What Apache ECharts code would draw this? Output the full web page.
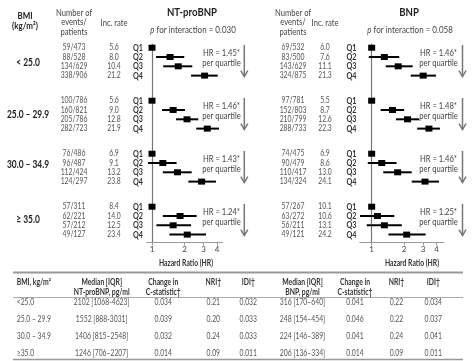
<!DOCTYPE html>
<html><head><meta charset="utf-8">
<script src="https://cdn.jsdelivr.net/npm/echarts@6/dist/echarts.min.js"></script>
<style>html,body{margin:0;padding:0;background:#fff}#c{width:474px;height:361px}</style>
</head><body><div id="c"></div>
<script>
// ---------- data ----------
const groups = ['< 25.0', '25.0 – 29.9', '30.0 – 34.9', '≥ 35.0'];
const quartiles = ['Q1', 'Q2', 'Q3', 'Q4'];
const xTicks = [1, 2, 3, 4];

const ntEvents = ['59/473','88/528','134/629','338/906','100/786','160/821','205/786','282/723','76/486','96/487','112/424','124/297','57/311','62/221','57/212','49/127'];
const ntInc = ['5.6','8.0','10.4','21.2','5.6','9.0','12.8','21.9','6.9','9.1','13.2','23.8','8.4','14.0','12.5','23.4'];
const ntHR = [1,1.47,1.75,3.07, 1,1.57,2.11,3.25, 1,1.26,1.72,2.88, 1,1.82,1.57,2.12];
const ntLo = [null,1.09,1.27,2.30, null,1.24,1.67,2.57, null,0.92,1.26,2.17, null,1.26,1.10,1.45];
const ntHi = [null,1.99,2.36,4.06, null,2.02,2.68,4.17, null,1.69,2.33,3.91, null,2.59,2.30,3.16];
const ntPerQ = ['1.45','1.46','1.43','1.24'];
const ntP = '0.030';

const bnpEvents = ['69/532','83/500','143/629','324/875','97/781','152/803','210/799','288/733','74/475','90/479','110/417','134/324','57/267','63/272','56/211','49/121'];
const bnpInc = ['6.0','7.6','11.1','21.3','5.5','8.7','12.6','22.3','6.9','8.6','13.0','24.1','10.1','10.6','13.1','24.2'];
const bnpHR = [1,1.31,1.76,3.00, 1,1.56,2.15,3.39, 1,1.24,1.74,3.12, 1,1.13,1.31,2.11];
const bnpLo = [null,0.94,1.35,2.30, null,1.21,1.68,2.64, null,0.92,1.28,2.35, null,0.78,0.90,1.43];
const bnpHi = [null,1.80,2.40,3.94, null,2.00,2.76,4.29, null,1.70,2.35,4.20, null,1.62,1.90,3.16];
const bnpPerQ = ['1.46','1.48','1.46','1.25'];
const bnpP = '0.058';

const tblHeader1 = ['BMI, kg/m²','Median [IQR]','Change in','NRI†','IDI†','Median [IQR]','Change in','NRI†','IDI†'];
const tblHeader2 = ['','NT-proBNP, pg/ml','C-statistic†','','','BNP, pg/ml','C-statistic†','',''];
const tblBMI = ['<25.0','25.0 – 29.9','30.0 – 34.9','≥35.0'];
const tblNtMedian = ['2102 [1068-4623]','1552 [888-3031]','1406 [815–2548]','1246 [706–2207]'];
const tblNtC = ['0.034','0.039','0.032','0.014'];
const tblNtNRI = ['0.21','0.20','0.24','0.09'];
const tblNtIDI = ['0.032','0.033','0.033','0.011'];
const tblBnpMedian = ['316 [170–640]','248 [154–454]','224 [146–389]','206 [136–334]'];
const tblBnpC = ['0.041','0.046','0.041','0.014'];
const tblBnpNRI = ['0.22','0.22','0.24','0.09'];
const tblBnpIDI = ['0.034','0.037','0.041','0.011'];

// ---------- layout ----------
const FONT = 'Lato';
const SX = 0.8;
const GAP = 5.7;
const rowPos = (g, q) => g * GAP + q;
const L10 = v => Math.log10(v);

function forestData(hr, lo, hi) {
  return hr.map((v, i) => {
    const g = Math.floor(i / 4), q = i % 4;
    return [L10(v), rowPos(g, q), L10(lo[i] == null ? v : lo[i]), L10(hi[i] == null ? v : hi[i])];
  });
}
function renderForest(params, api) {
  const p = api.coord([api.value(0), api.value(1)]);
  const a = api.coord([api.value(2), api.value(1)]);
  const b = api.coord([api.value(3), api.value(1)]);
  return { type: 'group', children: [
    { type: 'line', shape: { x1: a[0], y1: p[1], x2: b[0], y2: p[1] }, style: { stroke: '#000', lineWidth: 2 } },
    { type: 'rect', shape: { x: p[0] - 3.5, y: p[1] - 3, width: 7, height: 6 }, style: { fill: '#000' } }
  ]};
}
const tickVals = xTicks.map(L10);
function xAxisCfg(gi, min, max) {
  return {
    gridIndex: gi, type: 'value', min: min, max: max,
    axisLine: { onZero: false, lineStyle: { color: '#999', width: 1 } },
    axisTick: { show: true, customValues: tickVals, length: 3, lineStyle: { color: '#999' } },
    axisLabel: { customValues: tickVals, formatter: v => String(Math.round(Math.pow(10, v))), fontSize: 8, color: '#444', margin: 3, fontFamily: FONT },
    splitLine: { show: false }
  };
}
function yAxisCfg(gi) {
  return {
    gridIndex: gi, type: 'value', inverse: true, min: -0.4, max: 20.95,
    axisLine: { show: true, onZero: true, lineStyle: { color: '#777', width: 1.2 } },
    axisTick: { show: false }, axisLabel: { show: false }, splitLine: { show: false }
  };
}

const chart = echarts.init(document.getElementById('c'));
chart.setOption({
  animation: false,
  backgroundColor: '#fff',
  grid: [
    { left: 146.6, top: 44, width: 75.6, height: 198.5, outerBoundsMode: 'none', containLabel: false },
    { left: 359.8, top: 44, width: 84.2, height: 198.5, outerBoundsMode: 'none', containLabel: false }
  ],
  xAxis: [xAxisCfg(0, -0.05, 0.65), xAxisCfg(1, -0.11, 0.67)],
  yAxis: [yAxisCfg(0), yAxisCfg(1)],
  series: [
    { type: 'custom', xAxisIndex: 0, yAxisIndex: 0, renderItem: renderForest, data: forestData(ntHR, ntLo, ntHi), z: 5 },
    { type: 'custom', xAxisIndex: 1, yAxisIndex: 1, renderItem: renderForest, data: forestData(bnpHR, bnpLo, bnpHi), z: 5 }
  ]
});

const Y = pos => chart.convertToPixel({ yAxisIndex: 0 }, pos);

function txt(x, y, s, o) {
  o = o || {};
  return {
    type: 'text', x: x, y: y, scaleX: o.sx == null ? SX : o.sx, silent: true,
    style: {
      text: s, x: 0, y: 0,
      font: (o.style || 'normal') + ' ' + (o.weight || 'normal') + ' ' + (o.size || 8) + 'px ' + FONT,
      fill: o.color || '#444',
      textAlign: o.align || 'center', align: o.align || 'center',
      textVerticalAlign: 'middle', verticalAlign: 'middle',
      rich: o.rich
    }
  };
}
function hline(x1, x2, y, w, c) {
  return { type: 'line', silent: true, shape: { x1: x1, y1: y, x2: x2, y2: y }, style: { stroke: c, lineWidth: w } };
}
function arrow(x, y1, y2) {
  return { type: 'group', silent: true, children: [
    { type: 'line', shape: { x1: x, y1: y1, x2: x, y2: y2 }, style: { stroke: '#777', lineWidth: 1.5 } },
    { type: 'polyline', shape: { points: [[x - 3.5, y2 - 6], [x, y2], [x + 3.5, y2 - 6]] }, style: { stroke: '#777', lineWidth: 1.5, fill: null } }
  ]};
}

const els = [];
// left header
els.push(txt(25, 16, 'BMI', { weight: 'bold', size: 10, color: '#222' }));
els.push(txt(25, 25.5, '(kg/m²)', { weight: 'bold', size: 10, color: '#222' }));
const panels = [
  { title: 'NT-proBNP', p: ntP, ev: ntEvents, inc: ntInc, perQ: ntPerQ, xTitle: 192, xNum: 74, xInc: 114, xQ: 138, xHR: 221.5, xArrow: 244.3, xAxisName: 186 },
  { title: 'BNP', p: bnpP, ev: bnpEvents, inc: bnpInc, perQ: bnpPerQ, xTitle: 409, xNum: 293, xInc: 325, xQ: 351.5, xHR: 438.5, xArrow: 462.5, xAxisName: 412 }
];
panels.forEach(P => {
  els.push(txt(P.xNum, 12.5, 'Number of', { size: 9.5 }));
  els.push(txt(P.xNum, 22, 'events/', { size: 9.5 }));
  els.push(txt(P.xNum, 31.5, 'patients', { size: 9.5 }));
  els.push(txt(P.xInc, 22.5, 'Inc. rate', { size: 9.5 }));
  els.push(txt(P.xTitle, 12.5, P.title, { weight: 'bold', size: 12, color: '#222' }));
  els.push(txt(P.xTitle + 1, 29.5, '{i|p} for interaction = ' + P.p, { size: 10, rich: { i: { font: 'italic normal 10px ' + FONT, fill: '#444' } } }));
  for (let i = 0; i < 16; i++) {
    const g = Math.floor(i / 4), q = i % 4, y = Y(rowPos(g, q));
    els.push(txt(P.xNum, y, P.ev[i], { size: 8.5, color: '#555' }));
    els.push(txt(P.xInc, y, P.inc[i], { size: 8.5, color: '#555' }));
    els.push(txt(P.xQ, y, quartiles[q], { size: 9, weight: 'bold', color: '#333' }));
  }
  for (let g = 0; g < 4; g++) {
    els.push(txt(P.xHR, Y(rowPos(g, 0.6)), 'HR = ' + P.perQ[g] + '*', { size: 9.5 }));
    els.push(txt(P.xHR, Y(rowPos(g, 1.67)), 'per quartile', { size: 9.5 }));
    els.push(arrow(P.xArrow, Y(rowPos(g, -0.3)), Y(rowPos(g, 3.1))));
  }
  els.push(txt(P.xAxisName, 263, 'Hazard Ratio (HR)', { size: 8.5, weight: 'bold', color: '#333' }));
});
const groupOff = [1.6, 1.5, 1.2, 1.4];
groups.forEach((s, g) => els.push(txt(28, Y(rowPos(g, groupOff[g])), s, { weight: 'bold', size: 10.5, color: '#222' })));

// table
const colX = [16.7, 101.7, 163.3, 213.3, 248.3, 302.5, 355, 396.5, 433.3];
els.push(hline(13, 463, 272.5, 2, '#999'));
els.push(hline(13, 463, 297.5, 1, '#aaa'));
els.push(hline(13, 463, 359.5, 1.5, '#999'));
tblHeader1.forEach((s, c) => els.push(txt(colX[c], 282.5, s, { size: 8.5, weight: 'bold', color: '#333', align: c === 0 ? 'left' : 'center' })));
tblHeader2.forEach((s, c) => { if (s) els.push(txt(colX[c], 292.5, s, { size: 8.5, weight: 'bold', color: '#333' })); });
const tblCols = [tblBMI, tblNtMedian, tblNtC, tblNtNRI, tblNtIDI, tblBnpMedian, tblBnpC, tblBnpNRI, tblBnpIDI];
const rowY = [302.5, 319.5, 336.5, 353.5];
tblCols.forEach((col, c) => col.forEach((s, r) => els.push(txt(colX[c], rowY[r], s, { size: 8.5, color: '#555', align: c === 0 ? 'left' : 'center' }))));

chart.setOption({ graphic: { elements: els } });
</script></body></html>
